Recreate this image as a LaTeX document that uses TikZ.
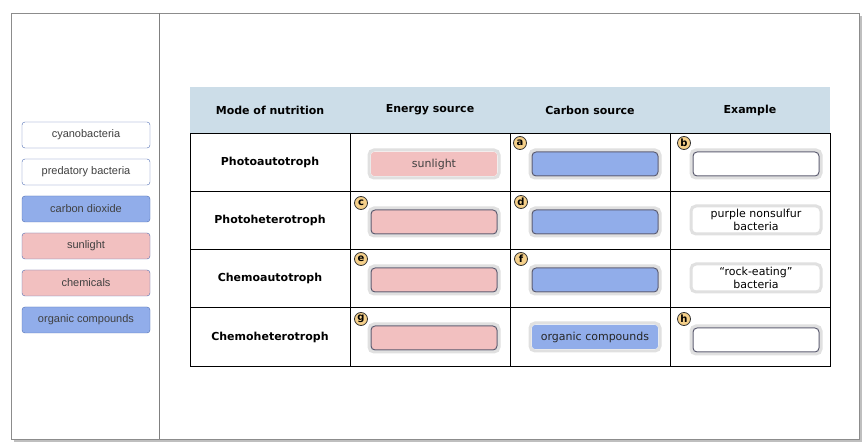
\documentclass[tikz,border=0pt]{standalone}
\usepackage{fontspec}
\setmainfont{DejaVu Sans}
\newfontfamily\lib{Liberation Sans}
\definecolor{cblue}{RGB}{145,173,234}
\definecolor{cpink}{RGB}{242,192,192}
\definecolor{chead}{RGB}{204,221,232}
\definecolor{cbadge}{RGB}{245,208,138}
\definecolor{cslot}{RGB}{90,90,110}
\definecolor{citem}{RGB}{80,110,180}
\begin{document}
\begin{tikzpicture}[x=1pt,y=-1pt,
 item/.style={draw=citem, rounded corners=3pt, minimum width=128pt, minimum height=26pt, font=\lib\fontsize{11}{13}\selectfont, text=black!75, inner sep=0pt},
 wbox/.style={item, fill=white},
 bbox/.style={item, fill=cblue},
 pbox/.style={item, fill=cpink},
 slot/.style={draw=cslot, line width=1pt, rounded corners=4pt, minimum width=126pt, minimum height=24pt, inner sep=0pt},
 halo/.style={draw=black!12, line width=3pt, rounded corners=5pt, minimum width=130pt, minimum height=28pt, inner sep=0pt},
 badge/.style={circle, draw=black!80, line width=0.8pt, fill=cbadge, inner sep=0pt, minimum size=13pt, font=\bfseries\fontsize{10}{10}\selectfont},
 hdr/.style={font=\bfseries\fontsize{11}{13}\selectfont},
 cell/.style={font=\fontsize{11}{13}\selectfont, align=center}]
\useasboundingbox (0,0) rectangle (863,446);
\fill[black!25] (14,16) rectangle (862,442);
\node[draw=black!45, fill=white, minimum width=848pt, minimum height=426pt, anchor=north west, inner sep=0pt] (frame) at (11,13) {};
\draw[black!50, line width=1pt] (159,13) -- (159,439);
% palette
\node[wbox] (p1) at (86,135) {cyanobacteria};
\node[wbox] (p2) at (86,172) {predatory bacteria};
\node[bbox] (p3) at (86,209) {carbon dioxide};
\node[pbox] (p4) at (86,246) {sunlight};
\node[pbox] (p5) at (86,283) {chemicals};
\node[bbox] (p6) at (86,320) {organic compounds};
% table
\fill[chead] (190,87) rectangle (830,133);
\draw (190,133) rectangle (830,366);
\foreach \x in {350,510,670} \draw (\x,133) -- (\x,366);
\foreach \y in {191,249,307} \draw (190,\y) -- (830,\y);
\node[hdr] (h1) at (270,110) {Mode of nutrition};
\node[hdr] (h2) at (430,110) {Energy source};
\node[hdr] (h3) at (590,110) {Carbon source};
\node[hdr] (h4) at (750,110) {Example};
\node[hdr] (r1) at (270,162) {Photoautotroph};
\node[hdr] (r2) at (270,220) {Photoheterotroph};
\node[hdr] (r3) at (270,278) {Chemoautotroph};
\node[hdr] (r4) at (270,337) {Chemoheterotroph};
% row 1
\node[halo] at (434,164) {};
\node[pbox, draw=none, minimum width=126pt, minimum height=24pt, font=\fontsize{11}{13}\selectfont] (e1) at (434,164) {sunlight};
\node[halo] at (595,164) {};
\node[slot, fill=cblue] (c1) at (595,164) {};
\node[halo] at (756,164) {};
\node[slot, fill=white] (x1) at (756,164) {};
% row 2
\node[halo] at (434,222) {};
\node[slot, fill=cpink] (e2) at (434,222) {};
\node[halo] at (595,222) {};
\node[slot, fill=cblue] (c2) at (595,222) {};
\node[halo] (x2) at (756,220) {};
\node[cell] at (756,220) {purple nonsulfur\\bacteria};
% row 3
\node[halo] at (434,280) {};
\node[slot, fill=cpink] (e3) at (434,280) {};
\node[halo] at (595,280) {};
\node[slot, fill=cblue] (c3) at (595,280) {};
\node[halo] (x3) at (756,278) {};
\node[cell] at (756,278) {“rock-eating”\\bacteria};
% row 4
\node[halo] at (434,338) {};
\node[slot, fill=cpink] (e4) at (434,338) {};
\node[halo] at (595,337) {};
\node[bbox, draw=none, minimum width=126pt, minimum height=24pt, font=\fontsize{11}{13}\selectfont, text=black!85] (c4) at (595,337) {organic compounds};
\node[halo] at (756,340) {};
\node[slot, fill=white] (x4) at (756,340) {};
% badges
\node[badge] (ba) at (520,143) {a};
\node[badge] (bb) at (684,143) {b};
\node[badge] (bc) at (361,203) {c};
\node[badge] (bd) at (521,202) {d};
\node[badge] (be) at (361,259) {e};
\node[badge] (bf) at (521,259) {f};
\node[badge] (bg) at (361,319) {g};
\node[badge] (bh) at (684,319) {h};
\end{tikzpicture}
\end{document}
